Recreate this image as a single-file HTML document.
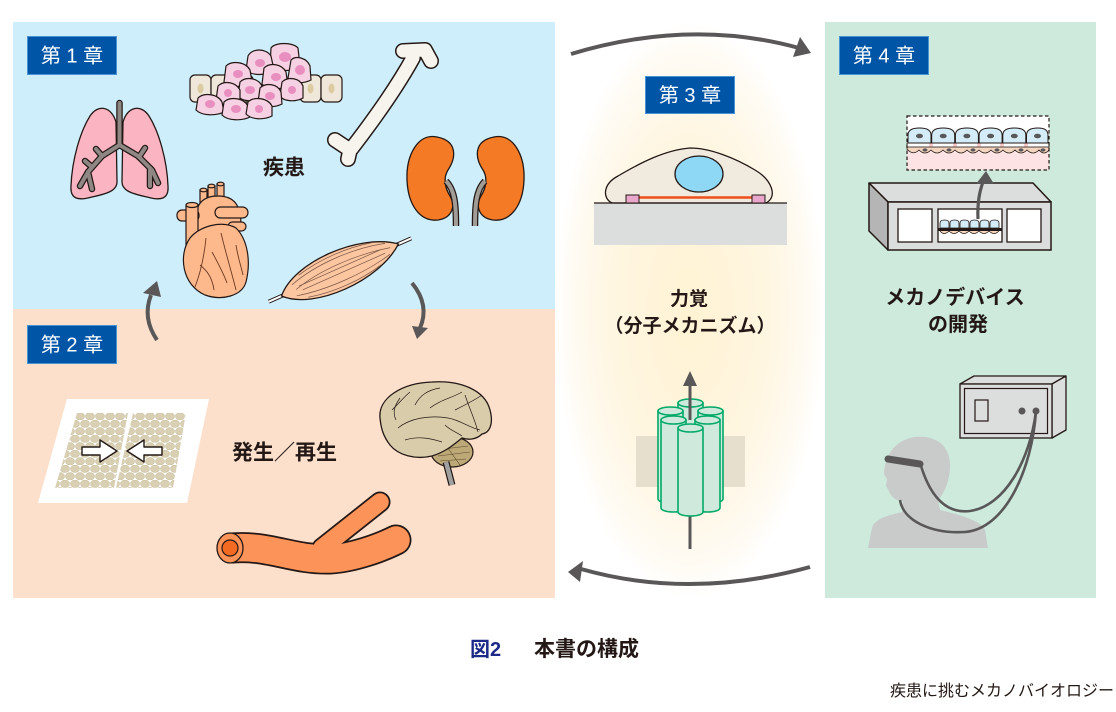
<!DOCTYPE html>
<html><head><meta charset="utf-8"><style>
html,body{margin:0;padding:0;background:#fff;}
svg{display:block;}
</style></head><body>
<svg width="1116" height="712" viewBox="0 0 1116 712" xmlns="http://www.w3.org/2000/svg" font-family='"Liberation Sans","Noto Sans CJK JP",sans-serif'>
<defs>
<radialGradient id="mg" cx="0.5" cy="0.5" r="0.5">
<stop offset="0" stop-color="#fff3d3"/>
<stop offset="0.6" stop-color="#fff6e2"/>
<stop offset="0.88" stop-color="#fffbf3"/>
<stop offset="1" stop-color="#ffffff"/>
</radialGradient>
<pattern id="tis" width="10" height="15" patternUnits="userSpaceOnUse">
<ellipse cx="5" cy="3.8" rx="4.5" ry="3.7" fill="#d9d0b4" stroke="#cbbf9e" stroke-width="0.6"/>
<ellipse cx="0" cy="11.3" rx="4.5" ry="3.7" fill="#d9d0b4" stroke="#cbbf9e" stroke-width="0.6"/>
<ellipse cx="10" cy="11.3" rx="4.5" ry="3.7" fill="#d9d0b4" stroke="#cbbf9e" stroke-width="0.6"/>
</pattern>
</defs>
<rect x="0" y="0" width="1116" height="712" fill="#fff"/>
<rect x="555" y="22" width="270" height="576" fill="url(#mg)"/>
<rect x="13" y="22" width="542" height="287" fill="#ceeefb"/>
<rect x="13" y="309" width="542" height="289" fill="#fde0cc"/>
<rect x="825" y="22" width="271" height="576" fill="#cdeadd"/>

<!-- chapter labels -->
<g fill="#0055a7" stroke="#4a93d3" stroke-width="1">
<rect x="27.5" y="36.5" width="89" height="38"/>
<rect x="27.5" y="325.5" width="89" height="38"/>
<rect x="645.5" y="76.5" width="89" height="37"/>
<rect x="839.5" y="36.5" width="89" height="38"/>
</g>
<g fill="#fff" font-size="20" text-anchor="middle">
<text x="72" y="62.5">第 1 章</text>
<text x="72" y="351.5">第 2 章</text>
<text x="690" y="102">第 3 章</text>
<text x="884" y="62.5">第 4 章</text>
</g>

<!-- lungs -->
<g stroke="#231815" stroke-width="1.3" fill="#fbb4c1">
<path d="M116,122 C111,106 98,104 90,116 C80,132 72,160 71,186 C70,199 78,201 92,197 C106,194 117,191 117,182 Z"/>
<path d="M123,122 C128,106 141,104 149,116 C159,132 167,160 168,186 C169,199 161,201 147,197 C133,194 122,191 122,182 Z"/>
</g>
<g fill="none" stroke-linecap="round" stroke-linejoin="round">
<g stroke="#231815" stroke-width="6.5">
<path d="M119.5,103 L119.5,145"/><path d="M119.5,145 L102,156 L88,172 L80,186"/><path d="M102,156 L96,149"/><path d="M92,167 L85,161"/><path d="M88,172 L92,189"/>
<path d="M119.5,145 L138,156 L152,170 L158,183"/><path d="M139,157 L145,148"/><path d="M150,168 L150,186"/>
</g>
<g stroke="#8e8784" stroke-width="4">
<path d="M119.5,103 L119.5,145"/><path d="M119.5,145 L102,156 L88,172 L80,186"/><path d="M102,156 L96,149"/><path d="M92,167 L85,161"/><path d="M88,172 L92,189"/>
<path d="M119.5,145 L138,156 L152,170 L158,183"/><path d="M139,157 L145,148"/><path d="M150,168 L150,186"/>
</g>
</g>

<!-- cells cluster -->
<g stroke="#231815" stroke-width="1.2" fill="#efe8da">
<rect x="190" y="75" width="21" height="27" rx="5"/><rect x="211" y="75" width="21" height="27" rx="5"/>
<rect x="232" y="75" width="21" height="27" rx="5"/><rect x="300" y="75" width="21" height="27" rx="5"/>
<rect x="321" y="75" width="21" height="27" rx="5"/>
</g>
<g fill="#dccba0"><ellipse cx="200.5" cy="88.5" rx="3" ry="5"/><ellipse cx="221.5" cy="88.5" rx="3" ry="5"/><ellipse cx="310.5" cy="88.5" rx="3" ry="5"/><ellipse cx="331.5" cy="88.5" rx="3" ry="5"/></g>
<g stroke="#231815" stroke-width="1.2" fill="#f6d1e4">
<path d="M271,48 C275,42 293,42 298,48 L300,66 C294,72 276,72 270,66 Z"/>
<path d="M248,56 C252,48 266,48 271,56 L274,70 C266,76 252,76 246,70 Z"/>
<path d="M291,60 C296,55 307,58 310,66 L311,80 C303,84 292,84 288,78 Z"/>
<path d="M226,66 C232,60 246,62 250,70 L252,82 C244,88 230,88 224,82 Z"/>
<path d="M264,68 C270,62 282,64 286,72 L288,86 C280,90 266,90 262,84 Z"/>
<path d="M240,82 C246,76 258,78 262,86 L262,98 C254,102 242,102 238,96 Z"/>
<path d="M218,86 C224,80 236,82 240,90 L240,102 C232,106 220,106 216,100 Z"/>
<path d="M282,82 C288,76 300,78 303,86 L303,98 C296,102 284,102 280,96 Z"/>
<path d="M260,88 C266,82 278,84 281,92 L282,104 C274,108 262,108 258,102 Z"/>
<path d="M198,98 C204,92 218,94 222,102 L224,112 C216,116 202,116 196,110 Z"/>
<path d="M224,102 C230,96 244,98 248,106 L250,117 C242,121 228,121 222,115 Z"/>
<path d="M248,102 C254,96 268,98 272,106 L272,116 C264,120 252,120 246,114 Z"/>
</g>
<g fill="#e88fc0">
<ellipse cx="285" cy="57" rx="6" ry="5"/><ellipse cx="260" cy="63" rx="5" ry="4"/><ellipse cx="300" cy="70" rx="5" ry="5"/>
<ellipse cx="238" cy="74" rx="5" ry="4"/><ellipse cx="276" cy="77" rx="5" ry="4"/><ellipse cx="250" cy="90" rx="5" ry="4"/>
<ellipse cx="228" cy="93" rx="4" ry="4"/><ellipse cx="292" cy="90" rx="4" ry="4"/><ellipse cx="270" cy="96" rx="5" ry="4"/>
<ellipse cx="210" cy="104" rx="5" ry="4"/><ellipse cx="236" cy="109" rx="5" ry="4"/><ellipse cx="259" cy="109" rx="4" ry="4"/>
</g>

<!-- bone -->
<g fill="none" stroke-linecap="round" stroke-linejoin="round">
<g stroke="#231815" stroke-width="16">
<path d="M403,51 L425,50 L431,61"/><path d="M413,58 Q392,96 352,148"/><path d="M335,140 L350,150 L348,159"/>
</g>
<g stroke="#f7f4ee" stroke-width="13">
<path d="M403,51 L425,50 L431,61"/><path d="M413,58 Q392,96 352,148"/><path d="M335,140 L350,150 L348,159"/>
</g>
</g>

<!-- kidneys -->
<g stroke="#231815" stroke-width="1.3" fill="#f47a26">
<path d="M437,137 C418,133 406,155 407,180 C408,205 420,222 438,220 C452,218 456,206 450,196 C445,188 443,178 448,170 C456,158 458,141 437,137 Z"/>
<path d="M494,137 C513,133 525,155 524,180 C523,205 511,222 493,220 C479,218 475,206 481,196 C486,188 488,178 483,170 C475,158 473,141 494,137 Z"/>
</g>
<g fill="none">
<path d="M446,181 C455,190 456,205 456,226" stroke="#231815" stroke-width="6.5"/>
<path d="M446,181 C455,190 456,205 456,226" stroke="#a29c97" stroke-width="4"/>
<path d="M485,181 C476,190 475,205 475,226" stroke="#231815" stroke-width="6.5"/>
<path d="M485,181 C476,190 475,205 475,226" stroke="#a29c97" stroke-width="4"/>
</g>

<text x="263" y="174.5" font-size="21" font-weight="700" fill="#231815">疾患</text>

<!-- heart -->
<g fill="#fdb98c" stroke="#231815" stroke-width="1.2">
<rect x="200" y="190" width="7" height="14"/><ellipse cx="203.5" cy="190" rx="3.5" ry="1.8"/>
<rect x="208" y="186" width="7" height="14"/><ellipse cx="211.5" cy="186" rx="3.5" ry="1.8"/>
<rect x="217" y="184" width="7" height="16"/><ellipse cx="220.5" cy="184" rx="3.5" ry="1.8"/>
<path d="M196,232 C193,207 200,196 218,196 C235,196 241,206 241,226 Z"/>
<rect x="177" y="210" width="22" height="11" rx="5"/>
<rect x="186" y="204" width="12" height="46" rx="2"/><ellipse cx="192" cy="205" rx="6" ry="2.5"/>
<rect x="215" y="207" width="33" height="11" rx="5.5"/>
<rect x="228" y="222" width="18" height="9" rx="4.5"/>
<path d="M190,238 C178,255 182,285 205,295 C222,301 242,296 246,282 C251,262 248,240 236,228 C222,220 200,226 190,238 Z"/>
</g>
<g fill="none" stroke="#6b3a22" stroke-width="0.9">
<path d="M206,238 C204,258 200,274 195,287"/><path d="M221,233 C226,254 231,270 236,290"/><path d="M212,252 C218,263 223,272 227,283"/><path d="M200,265 C206,270 212,276 214,290"/><path d="M236,245 C238,258 241,266 243,275"/>
</g>

<!-- muscle -->
<g transform="rotate(-24 340 270)">
<line x1="262" y1="270" x2="279" y2="270" stroke="#231815" stroke-width="4"/>
<line x1="262" y1="270" x2="279" y2="270" stroke="#fff" stroke-width="2"/>
<line x1="401" y1="270" x2="418" y2="270" stroke="#231815" stroke-width="4"/>
<line x1="401" y1="270" x2="418" y2="270" stroke="#fff" stroke-width="2"/>
<path d="M276,270 C300,244 372,244 404,270 C372,296 300,296 276,270 Z" fill="#fcc6a1" stroke="#231815" stroke-width="1.3"/>
<g stroke="#7a5545" stroke-width="0.7" fill="none">
<path d="M290,264 C320,255 360,255 392,264"/><path d="M292,270 C320,262 360,262 395,270"/><path d="M290,276 C320,283 362,283 392,276"/>
<path d="M300,258 C325,252 355,252 380,258"/><path d="M300,282 C325,288 355,288 380,282"/><path d="M296,268 L386,268"/><path d="M298,273 L388,273"/>
</g>
</g>

<!-- curved arrows -->
<g fill="none" stroke="#595757" stroke-width="4">
<path d="M157,340 Q142,318 151,295"/>
<path d="M412,283 Q430,305 420,328"/>
<path d="M571,54 Q690,18 799,48"/>
<path d="M810,567 Q690,600 581,569"/>
</g>
<g fill="#595757">
<polygon points="157,281 143,293 161,297"/>
<polygon points="412,326 428,328 417,339"/>
<polygon points="811,53 800,37 793,57"/>
<polygon points="568,572 583,561 580,582"/>
</g>

<!-- tissue -->
<polygon points="67,399 209,399 187,503 38,503" fill="#fff"/>
<polygon points="77,413 128,413 114,488 55,488" fill="url(#tis)"/>
<polygon points="133,413 186,413 173,488 116,488" fill="url(#tis)"/>
<g fill="#fff" stroke="#231815" stroke-width="1.4" stroke-linejoin="round">
<polygon points="82,447 100,447 100,440 117,451 100,462 100,455 82,455"/>
<polygon points="162,447 144,447 144,440 127,451 144,462 144,455 162,455"/>
</g>

<text x="232" y="459.5" font-size="21" font-weight="700" fill="#231815">発生／再生</text>

<!-- brain -->
<ellipse cx="452" cy="452" rx="21" ry="15" fill="#bda878" stroke="#231815" stroke-width="1.2"/>
<g stroke="#5a4a2a" stroke-width="0.6" fill="none">
<path d="M436,450 L468,446"/><path d="M438,456 L470,452"/><path d="M440,461 L466,459"/><path d="M445,444 L460,465"/>
</g>
<path d="M446,462 L452,485" stroke="#231815" stroke-width="7"/>
<path d="M446,462 L452,485" stroke="#a0a0a0" stroke-width="4.5"/>
<path d="M380,418 C378,398 402,383 432,382 C460,380 485,390 490,410 C494,425 489,433 482,434 C476,440 468,440 462,438 C452,446 445,452 432,456 C415,460 398,455 390,445 C383,436 381,428 380,418 Z" fill="#d9ccaa" stroke="#231815" stroke-width="1.3"/>
<g stroke="#231815" stroke-width="0.7" fill="none">
<path d="M398,428 C410,418 430,415 448,418 C460,420 470,428 480,430"/>
<path d="M392,410 C400,402 405,396 410,392"/><path d="M415,405 C420,395 428,390 440,388"/><path d="M430,408 C440,400 452,398 462,392"/>
<path d="M455,410 C465,405 475,400 482,395"/><path d="M465,395 C470,410 475,420 478,432"/><path d="M405,440 C418,436 430,438 442,442"/>
<path d="M400,398 C395,405 392,412 396,420"/><path d="M445,425 C450,430 456,432 462,436"/>
</g>

<!-- vessel -->
<g fill="none" stroke-linecap="round" stroke-linejoin="round">
<g stroke="#231815" stroke-width="31">
<path d="M232,548 C270,545 292,560 330,559 C352,558 380,548 396,540"/>
</g>
<g stroke="#231815" stroke-width="21"><path d="M322,548 L380,502"/></g>
<g stroke="#fc9358" stroke-width="27.5">
<path d="M232,548 C270,545 292,560 330,559 C352,558 380,548 396,540"/>
</g>
<g stroke="#fc9358" stroke-width="17.5"><path d="M322,548 L380,502"/></g>
</g>
<ellipse cx="230" cy="548" rx="13" ry="15" fill="#fc9358" stroke="#231815" stroke-width="1.3"/>
<circle cx="230" cy="548" r="8" fill="#f36b22" stroke="#231815" stroke-width="1.2"/>

<!-- chapter 3 cell -->
<rect x="594" y="203" width="193" height="42" fill="#dcdddd"/>
<path d="M612,203 C602,198 603,184 618,176 C640,163 665,150 690,148 C710,148 735,158 755,170 C772,180 778,197 766,203 Z" fill="#f1eadf" stroke="#231815" stroke-width="1.3"/>
<line x1="594" y1="203" x2="787" y2="203" stroke="#231815" stroke-width="1.3"/>
<ellipse cx="699" cy="174" rx="24" ry="18" fill="#8ed8f5" stroke="#231815" stroke-width="1.3"/>
<line x1="639" y1="197.5" x2="752" y2="197.5" stroke="#f04e1a" stroke-width="2.5"/>
<rect x="626" y="195" width="13" height="8" fill="#e8a7cb" stroke="#231815" stroke-width="1"/>
<rect x="752" y="195" width="13" height="8" fill="#e8a7cb" stroke="#231815" stroke-width="1"/>

<g font-size="19" font-weight="700" fill="#231815" text-anchor="middle">
<text x="689" y="305">力覚</text>
<text x="690" y="332">（分子メカニズム）</text>
</g>

<!-- channel -->
<rect x="636" y="436" width="109" height="51" fill="#e6dfcd"/>
<line x1="690" y1="512" x2="690" y2="549" stroke="#595757" stroke-width="3"/>
<g fill="#cfeadd" stroke="#00a968" stroke-width="1.6">
<path d="M678,403 L678,495 A12.5,4 0 0 0 703,495 L703,403 Z"/><ellipse cx="690.5" cy="403" rx="12.5" ry="4"/>
<path d="M658,411 L658,499 A12.5,4 0 0 0 683,499 L683,411 Z"/><ellipse cx="670.5" cy="411" rx="12.5" ry="4"/>
<path d="M698,411 L698,499 A12.5,4 0 0 0 723,499 L723,411 Z"/><ellipse cx="710.5" cy="411" rx="12.5" ry="4"/>
</g>
<line x1="690" y1="383" x2="690" y2="420" stroke="#595757" stroke-width="3"/>
<polygon points="690,371 683,386 697,386" fill="#595757"/>
<g fill="#cfeadd" stroke="#00a968" stroke-width="1.6">
<path d="M661,420 L661,508 A12.5,4 0 0 0 686,508 L686,420 Z"/><ellipse cx="673.5" cy="420" rx="12.5" ry="4"/>
<path d="M695,420 L695,508 A12.5,4 0 0 0 720,508 L720,420 Z"/><ellipse cx="707.5" cy="420" rx="12.5" ry="4"/>
<path d="M678,428 L678,512 A12.5,4 0 0 0 703,512 L703,428 Z"/><ellipse cx="690.5" cy="428" rx="12.5" ry="4"/>
</g>

<!-- chapter 4: tissue box -->
<rect x="907" y="150" width="142" height="20" fill="#fde3e3"/>
<rect x="907" y="116" width="142" height="34" fill="#fff"/>
<path d="M907,149 Q913,156 919,150 Q925,156 931,150 Q937,156 943,150 Q949,156 955,150 Q961,156 967,150 Q973,156 979,150 Q985,156 991,150 Q997,156 1003,150 Q1009,156 1015,150 Q1021,156 1027,150 Q1033,156 1039,150 Q1044,156 1049,150 L1049,146 L907,146 Z" fill="#f4d6c0" stroke="#231815" stroke-width="0.8"/>
<rect x="907" y="143" width="142" height="4" fill="#fff" stroke="#231815" stroke-width="0.8"/>
<g fill="#d3ecf8" stroke="#231815" stroke-width="1">
<path d="M908,143 L908,135 Q908,128 919.5,128 Q931,128 931,135 L931,143 Z"/>
<path d="M931.7,143 L931.7,135 Q931.7,128 943.2,128 Q954.7,128 954.7,135 L954.7,143 Z"/>
<path d="M955.4,143 L955.4,135 Q955.4,128 966.9,128 Q978.4,128 978.4,135 L978.4,143 Z"/>
<path d="M979.1,143 L979.1,135 Q979.1,128 990.6,128 Q1002.1,128 1002.1,135 L1002.1,143 Z"/>
<path d="M1002.8,143 L1002.8,135 Q1002.8,128 1014.3,128 Q1025.8,128 1025.8,135 L1025.8,143 Z"/>
<path d="M1026.5,143 L1026.5,135 Q1026.5,128 1038,128 Q1048,128 1048,135 L1048,143 Z"/>
</g>
<g fill="#595757">
<ellipse cx="919.5" cy="136" rx="3.5" ry="2.3"/><ellipse cx="943.2" cy="136" rx="3.5" ry="2.3"/><ellipse cx="966.9" cy="136" rx="3.5" ry="2.3"/>
<ellipse cx="990.6" cy="136" rx="3.5" ry="2.3"/><ellipse cx="1014.3" cy="136" rx="3.5" ry="2.3"/><ellipse cx="1037.5" cy="136" rx="3.5" ry="2.3"/>
<ellipse cx="925" cy="150" rx="2.5" ry="1.6"/><ellipse cx="949" cy="150" rx="2.5" ry="1.6"/><ellipse cx="973" cy="150" rx="2.5" ry="1.6"/>
<ellipse cx="997" cy="150" rx="2.5" ry="1.6"/><ellipse cx="1021" cy="150" rx="2.5" ry="1.6"/><ellipse cx="1043" cy="150" rx="2.5" ry="1.6"/>
</g>
<g fill="#f7c9c9"><rect x="929" y="143.5" width="4" height="3"/><rect x="953" y="143.5" width="4" height="3"/><rect x="977" y="143.5" width="4" height="3"/><rect x="1000" y="143.5" width="4" height="3"/><rect x="1024" y="143.5" width="4" height="3"/></g>
<rect x="907" y="116" width="142" height="54" fill="none" stroke="#231815" stroke-width="1.2" stroke-dasharray="3.5,2.5"/>

<!-- device box -->
<polygon points="869,183 1033,183 1051,202 888,202" fill="#dcdddd" stroke="#231815" stroke-width="1.5" stroke-linejoin="round"/>
<polygon points="869,183 888,202 888,250 869,231" fill="#b5b5b6" stroke="#231815" stroke-width="1.5" stroke-linejoin="round"/>
<rect x="888" y="202" width="163" height="48" fill="#dcdddd" stroke="#231815" stroke-width="1.5"/>
<g fill="#fff" stroke="#231815" stroke-width="1.3">
<rect x="898" y="209" width="34" height="33"/><rect x="938" y="209" width="64" height="33"/><rect x="1007" y="209" width="34" height="33"/>
</g>
<rect x="938.5" y="228" width="63" height="3" fill="#231815"/>
<g fill="#d3ecf8" stroke="#231815" stroke-width="0.8">
<path d="M940,228 L940,223 Q940,220 944.5,220 Q949,220 949,223 L949,228 Z"/>
<path d="M950,228 L950,223 Q950,220 954.5,220 Q959,220 959,223 L959,228 Z"/>
<path d="M960,228 L960,223 Q960,220 964.5,220 Q969,220 969,223 L969,228 Z"/>
<path d="M970,228 L970,223 Q970,220 974.5,220 Q979,220 979,223 L979,228 Z"/>
<path d="M980,228 L980,223 Q980,220 984.5,220 Q989,220 989,223 L989,228 Z"/>
<path d="M990,228 L990,223 Q990,220 994.5,220 Q999,220 999,223 L999,228 Z"/>
</g>
<path d="M940,231 Q944,236 949,231 Q954,236 959,231 Q964,236 969,231 Q974,236 979,231 Q984,236 989,231 Q994,236 999,231" fill="#f4d6c0" stroke="#231815" stroke-width="0.7"/>
<path d="M978,219 Q977,198 983,182" fill="none" stroke="#595757" stroke-width="3.2"/>
<polygon points="986,171 976,184 994,184" fill="#595757"/>

<g font-size="20" font-weight="700" fill="#231815" text-anchor="middle">
<text x="955" y="304">メカノデバイス</text>
<text x="958" y="331">の開発</text>
</g>

<!-- person -->
<path d="M868,548 L872,528 C875,518 890,515 902,512 L903,501 C896,501 891,497 889,491 L886,486 L887,479 L884,474 C885,455 895,440 915,437 C935,435 950,445 950,465 C950,480 945,492 938,500 L940,510 C960,515 980,520 985,530 L988,548 Z" fill="#c9caca"/>
<path d="M888,459 L920,464" stroke="#595757" stroke-width="7" stroke-linecap="round"/>
<!-- stimulator -->
<polygon points="960,384 974,376 1066,376 1052,384" fill="#dcdddd" stroke="#231815" stroke-width="1.3" stroke-linejoin="round"/>
<polygon points="1052,384 1066,376 1066,430 1052,438" fill="#dcdddd" stroke="#231815" stroke-width="1.3" stroke-linejoin="round"/>
<rect x="960" y="384" width="92" height="54" fill="#dcdddd" stroke="#231815" stroke-width="1.3"/>
<rect x="964.5" y="388.5" width="83" height="45" fill="none" stroke="#231815" stroke-width="1.2"/>
<rect x="975" y="400" width="13" height="21" fill="none" stroke="#231815" stroke-width="1.2"/>
<circle cx="1022" cy="411" r="3.5" fill="#595757"/>
<circle cx="1036" cy="411" r="3.5" fill="#595757"/>
<g fill="none" stroke="#595757" stroke-width="2.6">
<path d="M921,466 C930,495 945,514 970,511 C1005,506 1030,460 1036,411"/>
<path d="M900,500 C903,520 930,534 965,532 C1005,529 1032,470 1036,411"/>
</g>

<!-- caption -->
<text x="470" y="656" font-size="20" font-weight="700" fill="#1d2a87">図2</text>
<text x="534" y="656" font-size="21" font-weight="700" fill="#231815">本書の構成</text>
<text x="890" y="696" font-size="16" fill="#231815">疾患に挑むメカノバイオロジー</text>
</svg>
</body></html>
